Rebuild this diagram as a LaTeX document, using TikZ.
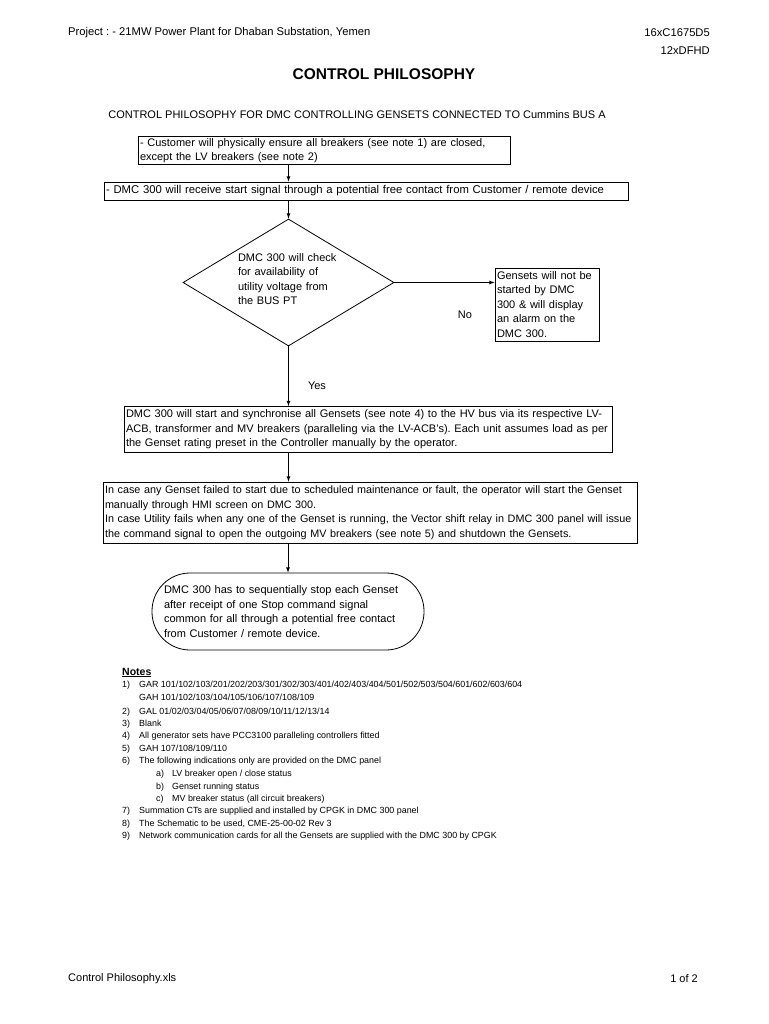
\documentclass[tikz,border=0pt]{standalone}
\usepackage{fontspec}
\setmainfont{Liberation Sans}
\frenchspacing
\usetikzlibrary{shapes.geometric, arrows,positioning}
\tikzstyle{arrow} = [line width=0.8pt,->,>=latex]
\tikzstyle{box} = [draw, line width=0.8pt, rectangle, align=left, inner sep=2pt, font=\fontsize{11}{14.5}\selectfont]
\tikzstyle{plain} = [inner sep=0pt, font=\fontsize{11}{14.5}\selectfont]
\tikzstyle{note} = [anchor=base west, inner sep=0pt, font=\fontsize{8.9}{11}\selectfont]

\begin{document}
\begin{tikzpicture}[x=1pt,y=-1pt]
\fill[white] (0,0) rectangle (768,1024);
\useasboundingbox (0,0) rectangle (768,1024);

% header
\node[plain, anchor=west, font=\fontsize{11.2}{14}\selectfont] (project) at (68,33) {Project : - 21MW Power Plant for Dhaban Substation, Yemen};
\node[plain, anchor=east, font=\fontsize{11.2}{14}\selectfont] (docno) at (710,33) {16xC1675D5};
\node[plain, anchor=east, font=\fontsize{11.2}{14}\selectfont] (docrev) at (710,51) {12xDFHD};
\node[inner sep=0pt, font=\bfseries\fontsize{15.5}{18}\selectfont] (title) at (384,74) {CONTROL PHILOSOPHY};
\node[plain] (subtitle) at (357,115) {CONTROL PHILOSOPHY FOR DMC CONTROLLING GENSETS CONNECTED TO Cummins BUS A};

% flow chart
\node[box, text width=368pt, minimum height=27pt] (cust) at (324,150.5) {- Customer will physically ensure all breakers (see note 1) are closed,\\except the LV breakers (see note 2)};
\node[box, font=\fontsize{11.3}{14.5}\selectfont, text width=520pt, minimum height=18pt] (signal) at (366,191) {- DMC 300 will receive start signal through a potential free contact from Customer / remote device};
\node[draw, line width=0.8pt, diamond, aspect=1.66, minimum width=211pt, minimum height=127pt, inner sep=0pt] (check) at (288.5,282.5) {};
\node[plain, text width=100pt, align=left] (checktext) at (288,279) {DMC 300 will check\\for availability of\\utility voltage from\\the BUS PT};
\node[box, text width=100pt, minimum height=73pt] (nostart) at (547,304.5) {Gensets will not be\\started by DMC\\300 \& will display\\an alarm on the\\DMC 300.};
\node[box, text width=484pt, minimum height=46pt] (sync) at (368,429.5) {DMC 300 will start and synchronise all Gensets (see note 4) to the HV bus via its respective LV-\\ACB, transformer and MV breakers (paralleling via the LV-ACB's). Each unit assumes load as per\\the Genset rating preset in the Controller manually by the operator.};
\node[box, font=\fontsize{10.8}{14.5}\selectfont, text width=530pt, minimum height=61pt] (manual) at (370,512.5) {In case any Genset failed to start due to scheduled maintenance or fault, the operator will start the Genset\\manually through HMI screen on DMC 300.\\In case Utility fails when any one of the Genset is running, the Vector shift relay in DMC 300 panel will issue\\the command signal to open the outgoing MV breakers (see note 5) and shutdown the Gensets.};
\node[box, rounded corners=38pt, inner sep=12pt, text width=248pt, minimum height=77pt] (stop) at (288,611.5) {DMC 300 has to sequentially stop each Genset\\after receipt of one Stop command signal\\common for all through a potential free contact\\from Customer / remote device.};

\node[plain] (no) at (465,315) {No};
\node[plain] (yes) at (317,386) {Yes};

\draw [arrow] (cust.south -| check.north) -- (signal.north -| check.north);
\draw [arrow] (signal.south -| check.north) -- (check.north);
\draw [arrow] (check.east) -- (nostart.west |- check.east);
\draw [arrow] (check.south) -- (sync.north -| check.south);
\draw [arrow] (sync.south -| check.south) -- (manual.north -| check.south);
\draw [arrow] (manual.south -| stop.north) -- (stop.north);

% notes
\node[note, font=\bfseries\fontsize{10.5}{12}\selectfont] (notes) at (122,675) {\underline{Notes}};
\node[note] (n1) at (122,687) {1)};
\node[note] (t1) at (139,687) {GAR 101/102/103/201/202/203/301/302/303/401/402/403/404/501/502/503/504/601/602/603/604};
\node[note] (t1b) at (139,700) {GAH 101/102/103/104/105/106/107/108/109};
\node[note] (n2) at (122,714) {2)};
\node[note] (t2) at (139,714) {GAL 01/02/03/04/05/06/07/08/09/10/11/12/13/14};
\node[note] (n3) at (122,726) {3)};
\node[note] (t3) at (139,726) {Blank};
\node[note] (n4) at (122,738) {4)};
\node[note] (t4) at (139,738) {All generator sets have PCC3100 paralleling controllers fitted};
\node[note] (n5) at (122,751) {5)};
\node[note] (t5) at (139,751) {GAH 107/108/109/110};
\node[note] (n6) at (122,763) {6)};
\node[note] (t6) at (139,763) {The following indications only are provided on the DMC panel};
\node[note] (n6a) at (156,776) {a)};
\node[note] (t6a) at (172,776) {LV breaker open / close status};
\node[note] (n6b) at (156,789) {b)};
\node[note] (t6b) at (172,789) {Genset running status};
\node[note] (n6c) at (156,801) {c)};
\node[note] (t6c) at (172,801) {MV breaker status (all circuit breakers)};
\node[note] (n7) at (122,813) {7)};
\node[note] (t7) at (139,813) {Summation CTs are supplied and installed by CPGK in DMC 300 panel};
\node[note] (n8) at (122,826) {8)};
\node[note] (t8) at (139,826) {The Schematic to be used, CME-25-00-02 Rev 3};
\node[note] (n9) at (122,838) {9)};
\node[note] (t9) at (139,838) {Network communication cards for all the Gensets are supplied with the DMC 300 by CPGK};

% footer
\node[plain, anchor=west] (file) at (68,979) {Control Philosophy.xls};
\node[plain, anchor=east] (page) at (698,979) {1 of 2};
\end{tikzpicture}
\end{document}
